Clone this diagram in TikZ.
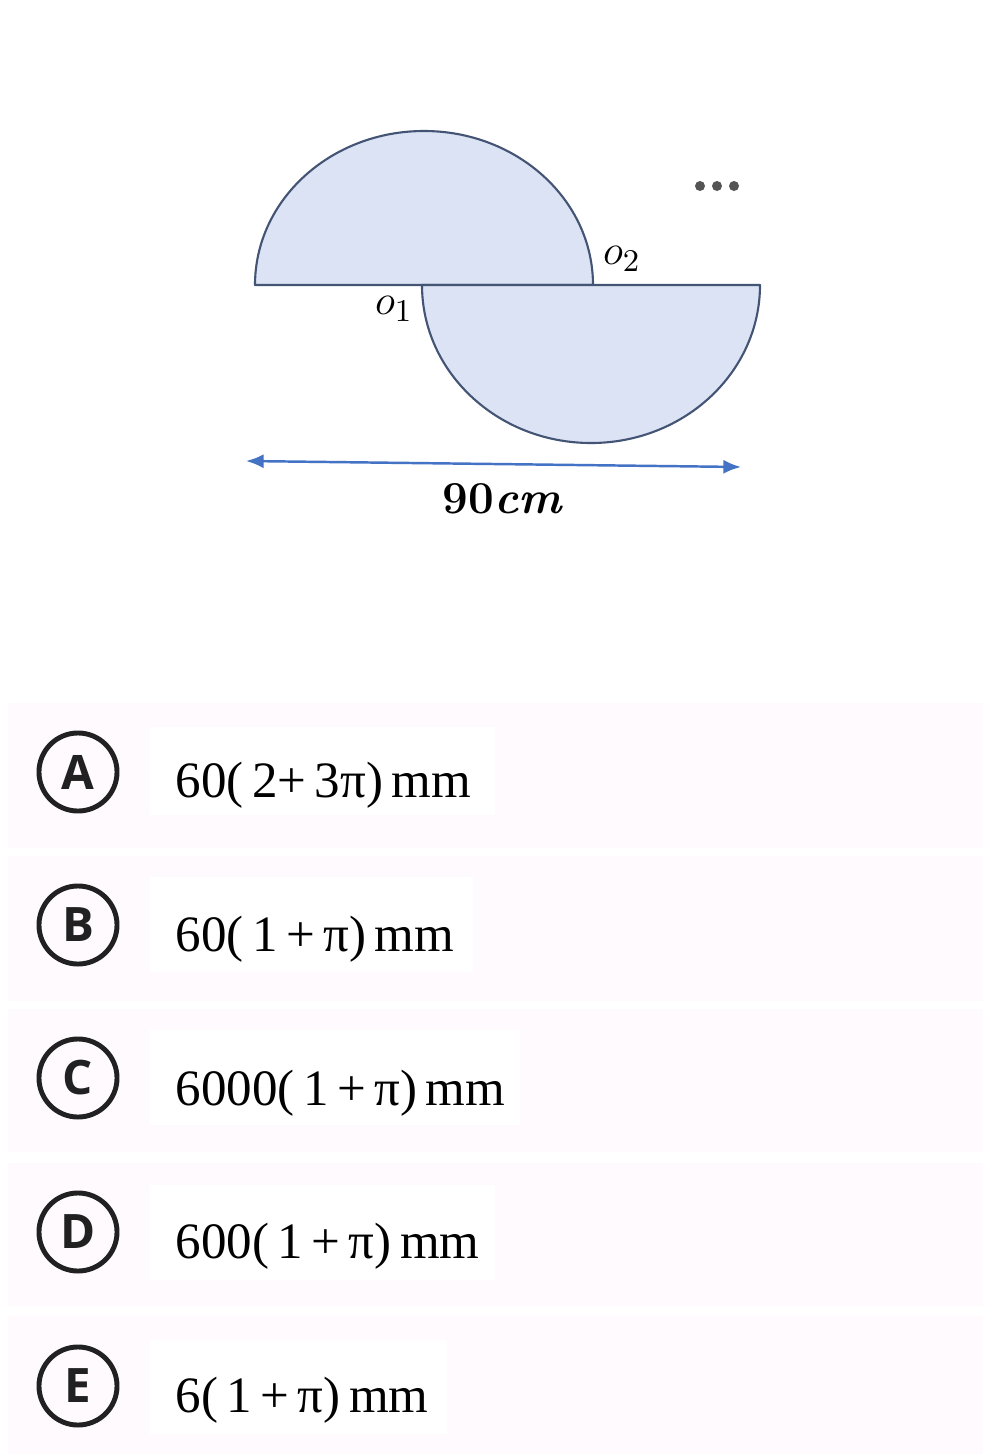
\documentclass[tikz,border=0pt]{standalone}
\usepackage{fontspec}
\usepackage{tikz}
\usetikzlibrary{arrows.meta,positioning,calc}
\newfontfamily\ansfont{Liberation Serif}
\newfontfamily\letfont{Open Sans}
\definecolor{discfill}{RGB}{220,227,245}
\definecolor{discline}{RGB}{68,84,116}
\definecolor{dimblue}{RGB}{68,114,196}
\definecolor{panelpink}{RGB}{254,250,254}
\definecolor{dotgray}{RGB}{85,85,85}

\begin{document}
\begin{tikzpicture}[x=0.01cm, y=-0.01cm,
  half disc/.style={fill=discfill, draw=discline, line width=0.6pt, line join=round},
  dim line/.style={draw=dimblue, line width=0.7pt, {Latex[length=5pt,width=4pt]}-{Latex[length=5pt,width=4pt]}},
  option panel/.style={fill=panelpink, draw=none},
  answer box/.style={fill=white, draw=none},
  choice node/.style={circle, draw=black!87, line width=1.4pt, minimum size=0.78cm, inner sep=0pt, font=\letfont\fontsize{13.5}{14}\selectfont\bfseries, text=black!87},
  answer node/.style={anchor=base west, inner sep=0pt, font=\ansfont\fontsize{14.5}{17}\selectfont}]%
\useasboundingbox (0,0) rectangle (983,1454);
\fill[white] (0,0) rectangle (983,1454);
\begin{scope}
% the two half discs
\draw[half disc] (255,285) arc[start angle=180, end angle=360, x radius=169, y radius=154] -- cycle;
\draw[half disc] (422,285) arc[start angle=180, end angle=0, x radius=169, y radius=158] -- cycle;
\draw[discline, line width=0.6pt] (255,285) -- (760,285);
\node[font=\fontsize{12.5}{13}\selectfont] (o1) at (394,309) {$o_1$};
\node[font=\fontsize{12.5}{13}\selectfont] (o2) at (622,259) {$o_2$};
\fill[dotgray] (700,186) circle (5) (717,186) circle (5) (734,186) circle (5);
\coordinate (al) at (246,461);
\coordinate (ar) at (741,467);
\draw[dim line] (al) -- (ar);
\node[font=\fontsize{13}{14}\selectfont] (len) at (502,499) {\bfseries 90\itshape cm};
\end{scope}
\begin{scope}
% answer rows
\fill[option panel] (8,703) rectangle (983,848);
\fill[option panel] (8,856) rectangle (983,1001);
\fill[option panel] (8,1009) rectangle (983,1152);
\fill[option panel] (8,1163) rectangle (983,1306);
\fill[option panel] (8,1316) rectangle (983,1454);
\fill[answer box] (150,727) rectangle (495,815);
\fill[answer box] (150,877) rectangle (473,972);
\fill[answer box] (150,1030) rectangle (520,1125);
\fill[answer box] (150,1185) rectangle (495,1280);
\fill[answer box] (150,1340) rectangle (447,1434);
\node[choice node] (ca) at (78,772) {A};
\node[choice node] (cb) at (78,925) {B};
\node[choice node] (cc) at (78,1078) {C};
\node[choice node] (cd) at (78,1232) {D};
\node[choice node] (ce) at (78,1386) {E};
\node[answer node] (ta) at (175,797) {60(\,2+\,3π)\,mm};
\node[answer node] (tb) at (175,951) {60(\,1\,+\,π)\,mm};
\node[answer node] (tc) at (175,1105) {6000(\,1\,+\,π)\,mm};
\node[answer node] (td) at (175,1258) {600(\,1\,+\,π)\,mm};
\node[answer node] (te) at (175,1412) {6(\,1\,+\,π)\,mm};
\end{scope}
\end{tikzpicture}
\end{document}
